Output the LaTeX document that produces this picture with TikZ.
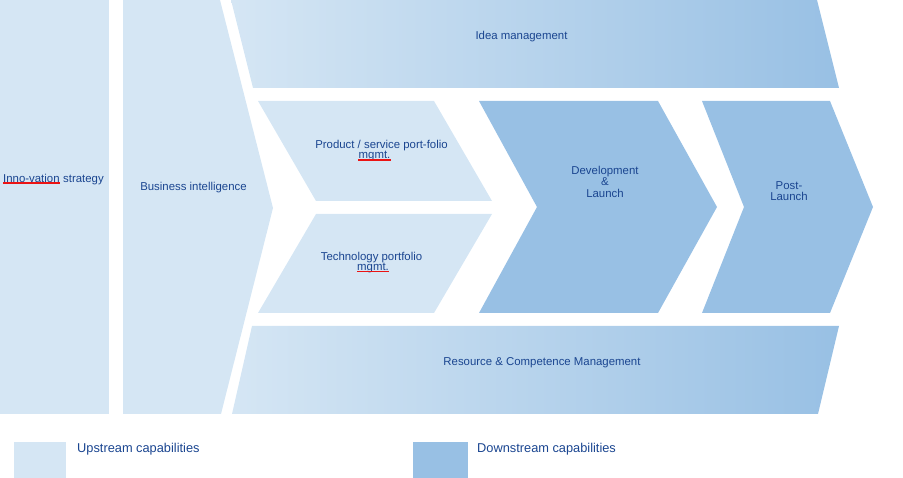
\documentclass[tikz,border=0pt]{standalone}
\usepackage{fontspec}
\setmainfont{Liberation Sans}
\definecolor{upc}{HTML}{D5E6F4}
\definecolor{dnc}{HTML}{98C0E4}
\definecolor{txc}{HTML}{1A4590}
\definecolor{spellred}{RGB}{235,20,20}
\tikzset{
  lbl/.style={text=txc, font=\fontsize{11.4}{11.7}\selectfont, align=center, inner sep=0pt, anchor=base},
  legtxt/.style={text=txc, font=\fontsize{12.8}{14}\selectfont, anchor=base west, inner sep=0pt},
  up/.style={fill=upc},
  dn/.style={fill=dnc},
  band/.style={left color=upc, right color=dnc},
  redline/.style={fill=spellred, draw=none}
}
\begin{document}
\begin{tikzpicture}[x=1pt,y=-1pt]
\useasboundingbox (0,0) rectangle (903,478);
% left columns
\fill[up] (0,0) rectangle (109,414);
\fill[up] (123,0) -- (220,0) -- (273,208) -- (221,414) -- (123,414) -- cycle;
% bands
\shade[band] (231,0) -- (817,0) -- (839,88) -- (253,88) -- cycle;
\shade[band] (252,326) -- (839,326) -- (818,414) -- (232,414) -- cycle;
% portfolio shapes
\fill[up] (258,101) -- (434,101) -- (492,201) -- (316,201) -- cycle;
\fill[up] (316,214) -- (492,214) -- (434,313) -- (258,313) -- cycle;
% downstream chevrons
\fill[dn] (479,101) -- (658,101) -- (717,207) -- (658,313) -- (479,313) -- (537,207) -- cycle;
\fill[dn] (702,101) -- (830,101) -- (873,207) -- (830,313) -- (702,313) -- (744,207) -- cycle;
% labels
\node[lbl, anchor=base west] (inno) at (3,182.3) {Inno-vation};
\node[lbl, anchor=base west] (strat) at ([xshift=3.2pt]inno.base east) {strategy};
\fill[redline] ([yshift=-0.2pt]inno.base west) rectangle ([yshift=-1.7pt]inno.base east);
\node[lbl] (bi) at (193.5,190.5) {Business intelligence};
\node[lbl] (idea) at (521.5,39.3) {Idea management};
\node[lbl] (prod) at (381.5,148.5) {Product / service port-folio};
\node[lbl] (prodm) at ([xshift=-7pt,yshift=-10.5pt]prod.base) {mgmt.};
\fill[redline] ([yshift=-0.3pt]prodm.base west) rectangle ([yshift=-1.7pt]prodm.base east);
\node[lbl] (tech) at (371.5,260.3) {Technology portfolio};
\node[lbl] (techm) at ([xshift=1.5pt,yshift=-10.5pt]tech.base) {mgmt.};
\fill[redline] ([yshift=-0.3pt]techm.base west) rectangle ([yshift=-1.7pt]techm.base east);
\node[lbl] (dev) at (605,197.7) {Development\\\&\\Launch};
\node[lbl, font=\fontsize{11.4}{11}\selectfont] (post) at (789,200.7) {Post-\\Launch};
\node[lbl] (res) at (542,366) {Resource \& Competence Management};
% legend
\fill[up] (14,442) rectangle (66,478);
\fill[dn] (413,442) rectangle (468,478);
\node[legtxt] (lu) at (77,452.3) {Upstream capabilities};
\node[legtxt] (ld) at (477,452.3) {Downstream capabilities};
\end{tikzpicture}
\end{document}
